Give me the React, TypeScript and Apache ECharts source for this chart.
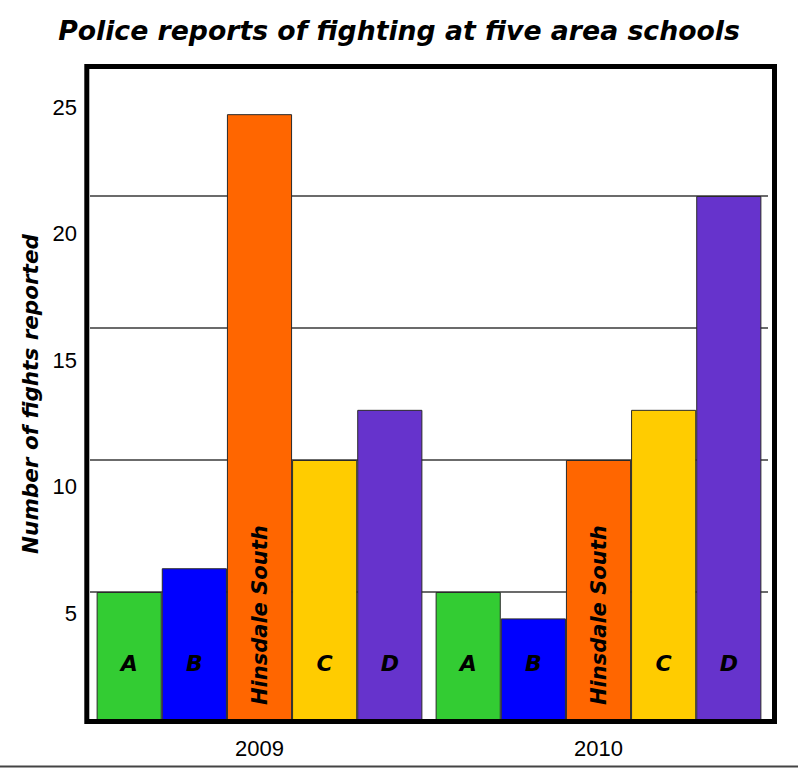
import React, { useEffect, useRef } from "react";
import * as echarts from "echarts";

const years = ["2009", "2010"];
const schools = ["A", "B", "Hinsdale South", "C", "D"];
const schoolColors = ["#33CC33", "#0000FF", "#FF6600", "#FFCC00", "#6633CC"];
const valuesA = [5, 5];
const valuesB = [5.9, 4];
const valuesHinsdale = [23.1, 10];
const valuesC = [10, 11.9];
const valuesD = [11.9, 20];
const seriesValues = [valuesA, valuesB, valuesHinsdale, valuesC, valuesD];
const yTickLabels = [5, 10, 15, 20, 25];

const TITLE = "Police reports of fighting at five area schools";
const Y_NAME = "Number of fights reported";
const BOLD_FONT = "DejaVu Sans";
const PLAIN_FONT = "Liberation Sans, Arial, sans-serif";

export default function App() {
  const ref = useRef<HTMLDivElement | null>(null);

  useEffect(() => {
    if (!ref.current) return;
    const chart = echarts.init(ref.current, null, { renderer: "svg" });

    const series: any[] = schools.map((name, i) => {
      const isLong = name.length > 1;
      return {
        name,
        type: "bar",
        xAxisIndex: 0,
        yAxisIndex: 0,
        data: seriesValues[i],
        barGap: "0%",
        barCategoryGap: "3.9%",
        itemStyle: {
          color: schoolColors[i],
          borderColor: "#2a2a2a",
          borderWidth: 1,
        },
        label: isLong
          ? {
              show: true,
              formatter: name,
              position: "insideBottom",
              distance: 17,
              rotate: 90,
              align: "left",
              verticalAlign: "middle",
              offset: [2, 0],
              color: "#000",
              fontFamily: BOLD_FONT,
              fontWeight: "bold",
              fontStyle: "italic",
              fontSize: 21,
            }
          : {
              show: true,
              formatter: name,
              position: "insideBottom",
              distance: 50,
              color: "#000",
              fontFamily: BOLD_FONT,
              fontWeight: "bold",
              fontStyle: "italic",
              fontSize: 22,
            },
      };
    });

    chart.setOption({
      animation: false,
      backgroundColor: "#fff",
      title: {
        text: TITLE,
        left: "center",
        top: 17,
        padding: 0,
        textStyle: {
          fontFamily: BOLD_FONT,
          fontWeight: "bold",
          fontStyle: "italic",
          fontSize: 26.7,
          color: "#000",
        },
      },
      grid: [
        { left: 90, right: 30, top: 64, bottom: 44 },
        { left: 90, right: 30, top: 107, bottom: 28.5 },
      ],
      xAxis: [
        {
          type: "category",
          gridIndex: 0,
          data: years,
          axisLine: { show: false },
          axisTick: { show: false },
          axisLabel: {
            margin: 13,
            fontFamily: PLAIN_FONT,
            fontSize: 22,
            color: "#000",
          },
        },
        { type: "value", gridIndex: 1, show: false },
      ],
      yAxis: [
        {
          type: "value",
          gridIndex: 0,
          min: 0,
          max: 25,
          interval: 5,
          axisLine: { show: false },
          axisTick: { show: false },
          axisLabel: { show: false },
          splitLine: {
            show: true,
            showMinLine: false,
            showMaxLine: false,
            lineStyle: { color: "#3a3a3a", width: 1.5 },
          },
          name: Y_NAME,
          nameLocation: "middle",
          nameRotate: 90,
          nameGap: 49,
          nameTextStyle: {
            fontFamily: BOLD_FONT,
            fontWeight: "bold",
            fontStyle: "italic",
            fontSize: 21.5,
            color: "#000",
          },
        },
        {
          type: "value",
          gridIndex: 1,
          min: 0,
          max: 25,
          interval: 5,
          axisLine: { show: false },
          axisTick: { show: false },
          splitLine: { show: false },
          axisLabel: {
            margin: 13,
            fontFamily: PLAIN_FONT,
            fontSize: 22,
            color: "#000",
            formatter: (v: number) => (yTickLabels.indexOf(v) >= 0 ? String(v) : ""),
          },
        },
      ],
      series,
      graphic: [
        {
          type: "rect",
          z: 100,
          silent: true,
          shape: { x: 86.8, y: 66.5, width: 687.7, height: 655 },
          style: { fill: "none", stroke: "#000", lineWidth: 5 },
        },
        {
          type: "line",
          z: 100,
          silent: true,
          shape: { x1: 0, y1: 766.5, x2: 798, y2: 766.5 },
          style: { stroke: "#444", lineWidth: 2 },
        },
      ],
    });

    return () => chart.dispose();
  }, []);

  return (
    <div
      ref={ref}
      style={{ position: "fixed", left: 0, top: 0, width: 798, height: 768, background: "#fff" }}
    />
  );
}
